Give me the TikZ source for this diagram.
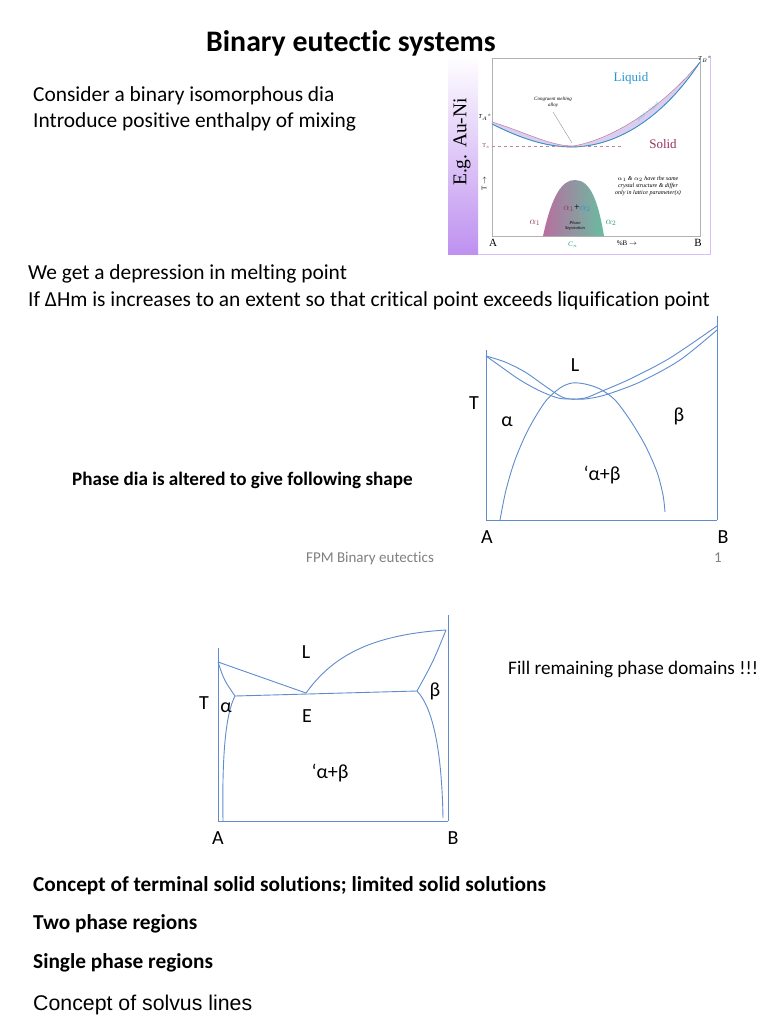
\documentclass[tikz,border=0pt]{standalone}
\usepackage{fontspec}
\setmainfont{Carlito}[Ligatures=NoCommon]
\newfontfamily\arialfont{Liberation Sans}
\newfontfamily\timesfont{Liberation Serif}
\definecolor{phaseline}{RGB}{95,140,205}
\definecolor{lensfill}{RGB}{218,205,238}
\definecolor{figpurple}{RGB}{190,145,240}
\definecolor{solidred}{RGB}{150,50,95}
\definecolor{liqblue}{RGB}{40,150,210}
\definecolor{alphgreen}{RGB}{40,160,120}
\definecolor{domepurple}{RGB}{185,110,160}
\tikzset{
  phase/.style={draw=phaseline, line width=0.9pt},
  body/.style={anchor=base west, inner sep=0pt, font=\fontsize{21.4}{25}\selectfont},
  boldbody/.style={anchor=base west, inner sep=0pt, font=\bfseries\fontsize{21.3}{25}\selectfont},
  lbl/.style={inner sep=0pt, font=\fontsize{20}{22}\selectfont},
  tinytext/.style={inner sep=0pt, font=\timesfont\itshape\fontsize{5}{6}\selectfont, align=center},
}
\begin{document}
\begin{tikzpicture}[x=1pt,y=-1pt]
\useasboundingbox (0,0) rectangle (768,1024);
\fill[white] (0,0) rectangle (768,1024);

% Text of the slide
\node[anchor=base, inner sep=0pt, font=\bfseries\fontsize{29.8}{34}\selectfont] (title) at (351,52) {Binary eutectic systems};
\node[body] (consider) at (33,102) {Consider a binary isomorphous dia};
\node[body] (introduce) at (33,128) {Introduce positive enthalpy of mixing};
\node[body] (depression) at (28,279) {We get a depression in melting point};
\node[body] (increase) at (28,306) {If ΔHm is increases to an extent so that critical point exceeds liquification point};
\node[boldbody, font=\bfseries\fontsize{19.1}{22}\selectfont] (altered) at (72,485) {Phase dia is altered to give following shape};
\node[anchor=base, inner sep=0pt, text=gray, font=\fontsize{15}{17}\selectfont] (footer) at (370,562) {FPM Binary eutectics};
\node[anchor=base, inner sep=0pt, text=gray, font=\fontsize{15}{17}\selectfont] (pageno) at (718,562) {1};
\node[body, font=\fontsize{19.2}{22}\selectfont] (fill) at (508,674) {Fill remaining phase domains !!!};
\node[boldbody] (terminal) at (33,891) {Concept of terminal solid solutions; limited solid solutions};
\node[boldbody] (twophase) at (33,929) {Two phase regions};
\node[boldbody] (single) at (33,968) {Single phase regions};
\node[body, font=\arialfont\fontsize{21.3}{25}\selectfont] (solvus) at (33,1010) {Concept of solvus lines};

% Au-Ni picture
\shade[top color=white, bottom color=figpurple] (448,55) rectangle (478,254);
\draw[figpurple!60, line width=1pt] (478,254) -- (710,254) -- (710,56);
\draw[gray!60, line width=0.4pt] (492,58) rectangle (700,236);
\node[rotate=90, inner sep=0pt, font=\timesfont\fontsize{19.5}{22}\selectfont] (eg) at (462,142) {E.g. Au-Ni};
\filldraw[lensfill, draw=solidred!70] (492,122) .. controls (525,132) and (550,146) .. (573,146)
  .. controls (610,140) and (660,110) .. (700,62)
  .. controls (665,115) and (620,146) .. (573,147)
  .. controls (545,147) and (520,138) .. (492,124) -- cycle;
\draw[liqblue, line width=0.8pt] (492,124) .. controls (520,138) and (545,147) .. (573,147)
  .. controls (620,146) and (665,115) .. (700,62);
\draw[solidred!60, dashed, line width=0.5pt] (492,146) -- (622,146);
\draw[gray, line width=0.3pt] (553,112) -- (572,143);
\node[tinytext] (congruent) at (553,102) {Congruent melting\\alloy};
\node[inner sep=0pt, text=liqblue, font=\timesfont\fontsize{13}{15}\selectfont] (liquid) at (631,78) {Liquid};
\node[inner sep=0pt, text=solidred, font=\timesfont\fontsize{13}{15}\selectfont] (solid) at (663,144) {Solid};
\node[inner sep=0pt, rotate=40, text=liqblue!70, font=\timesfont\itshape\fontsize{4.5}{5}\selectfont] (sl) at (648,112) {Solid + Liquid};
\node[inner sep=0pt, font=\timesfont\itshape\fontsize{6}{7}\selectfont] (tam) at (485,117) {T$_{A}{}^{s}$};
\node[inner sep=0pt, text=solidred, font=\timesfont\fontsize{6}{7}\selectfont] (ts) at (486,146) {T$_s$};
\node[inner sep=0pt, font=\timesfont\itshape\fontsize{6}{7}\selectfont] (tbm) at (705,59) {T$_{B}{}^{s}$};
\node[inner sep=0pt, rotate=90, font=\timesfont\fontsize{7}{8}\selectfont] (taxis) at (484,184) {T $\rightarrow$};
\shade[left color=domepurple, right color=alphgreen!70] (543,236) .. controls (552,195) and (562,180) .. (575,180)
  .. controls (590,180) and (598,200) .. (604,236) -- cycle;
\node[inner sep=0pt, font=\timesfont\fontsize{10}{12}\selectfont] (a12) at (577,208) {\textcolor{solidred}{$\alpha_1$}+\textcolor{liqblue}{$\alpha_2$}};
\node[tinytext, font=\timesfont\itshape\fontsize{4.5}{5}\selectfont] (sep) at (575,226) {Phase\\Separation};
\node[inner sep=0pt, text=solidred, font=\timesfont\fontsize{10}{12}\selectfont] (a1) at (535,223) {$\alpha_1$};
\node[inner sep=0pt, text=alphgreen, font=\timesfont\fontsize{10}{12}\selectfont] (a2) at (611,223) {$\alpha_2$};
\node[tinytext, font=\timesfont\itshape\fontsize{6}{7}\selectfont] (note) at (648,186) {$\alpha_1$ \& $\alpha_2$ have the same\\crystal structure \& differ\\only in lattice parameter(s)};
\node[inner sep=0pt, font=\timesfont\fontsize{11}{12}\selectfont] (figA) at (493,243) {A};
\node[inner sep=0pt, font=\timesfont\fontsize{11}{12}\selectfont] (figB) at (698,243) {B};
\node[inner sep=0pt, text=alphgreen, font=\timesfont\itshape\fontsize{7}{8}\selectfont] (cn) at (573,245) {C$_n$};
\node[inner sep=0pt, font=\timesfont\fontsize{7}{8}\selectfont] (pctb) at (627,243) {\%B $\rightarrow$};

% Diagram with dome above the lens
\draw[phase] (486,350) -- (486,520) -- (717,520);
\draw[phase] (717,316) -- (717,520);
\draw[phase] plot[smooth] coordinates {(486,356) (505,362) (525,372) (545,386) (560,396) (570,399) (585,398) (600,392) (630,379) (670,358) (717,326)};
\draw[phase] plot[smooth] coordinates {(486,356) (500,366) (520,380) (540,391) (558,398) (570,399) (585,399) (605,395) (640,382) (680,360) (717,330)};
\draw[phase] plot[smooth] coordinates {(500,520) (506,490) (515,460) (528,430) (545,402) (560,388) (572,383) (585,384) (600,389) (615,400) (630,420) (645,445) (657,472) (663,495) (665,512)};
\node[lbl] (L1) at (575,365) {L};
\node[lbl] (T1) at (474,403) {T};
\node[lbl] (alpha1) at (507,422) {α};
\node[lbl] (beta1) at (679,416) {β};
\node[lbl] (ab1) at (602,475) {‘α+β};
\node[lbl] (A1) at (487,537) {A};
\node[lbl] (B1) at (723,537) {B};

% Eutectic diagram
\draw[phase] (218,648) -- (218,821) -- (448,821);
\draw[phase] (448,615) -- (448,821);
\coordinate (TA) at (218,662);
\coordinate (TB) at (446,630);
\coordinate (E) at (306,693);
\coordinate (alphaend) at (235,696);
\coordinate (betaend) at (417,691);
\draw[phase] (TA) -- (E);
\draw[phase] (E) .. controls (330,660) and (365,635) .. (TB);
\draw[phase] (alphaend) -- (betaend);
\draw[phase] (TA) .. controls (224,680) .. (alphaend);
\draw[phase] (alphaend) .. controls (225,715) and (222,760) .. (223,821);
\draw[phase] (TB) .. controls (433,662) .. (betaend);
\draw[phase] (betaend) .. controls (435,710) and (442,760) .. (443,818);
\node[lbl] (L2) at (306,652) {L};
\node[lbl] (T2) at (204,703) {T};
\node[lbl] (alpha2) at (226,708) {α};
\node[lbl] (beta2) at (435,691) {β};
\node[lbl] (E2) at (307,716) {E};
\node[lbl] (ab2) at (330,773) {‘α+β};
\node[lbl] (A2) at (218,838) {A};
\node[lbl] (B2) at (453,838) {B};
\end{tikzpicture}
\end{document}
